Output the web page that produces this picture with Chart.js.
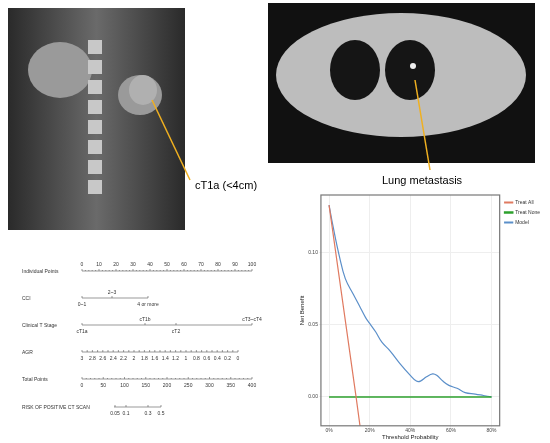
<!DOCTYPE html>
<html><head><meta charset="utf-8">
<script src="https://cdn.jsdelivr.net/npm/chart.js@4"></script>
<style>body{margin:0;background:#fff;width:550px;height:443px;position:relative;overflow:hidden;font-family:"Liberation Sans",Arial,sans-serif}
#bg{position:absolute;left:0;top:0}
#wrap{position:absolute;left:298px;top:190px;width:252px;height:251px}
</style></head><body>
<canvas id="bg" width="550" height="443"></canvas>
<div id="wrap"><canvas id="c"></canvas></div>
<script>
// DCA data
const thresholds = [0,2,5,8,12,15,18,20,23,26,30,35,40,43,45,48,51,53,56,59,63,67,72,76,80];
const modelNB = [0.133,0.118,0.098,0.082,0.071,0.063,0.055,0.051,0.045,0.038,0.032,0.023,0.015,0.011,0.011,0.014,0.016,0.015,0.011,0.008,0.006,0.003,0.002,0.001,0];
const treatAllX = [0,13.3,16];
const treatAllNB = [0.133,0,-0.028];
const treatNoneX = [0,80];
const treatNoneNB = [0,0];
const xTicks = [0,20,40,60,80];
const yTicks = [0,0.05,0.10];
// Nomogram data
const pointTicks = [0,10,20,30,40,50,60,70,80,90,100];
const agrLabels = ["3","2.8","2.6","2.4","2.2","2","1.8","1.6","1.4","1.2","1","0.8","0.6","0.4","0.2","0"];
const totalTicks = [0,50,100,150,200,250,300,350,400];
const riskLabels = ["0.05","0.1","0.3","0.5"];

const g = document.getElementById('bg').getContext('2d');
let gr = g.createLinearGradient(8,0,185,0);
gr.addColorStop(0,'#2a2a2a');gr.addColorStop(0.5,'#6a6a6a');gr.addColorStop(1,'#2a2a2a');
g.fillStyle=gr; g.fillRect(8,8,177,222);
g.fillStyle='#9a9a9a'; g.beginPath(); g.ellipse(60,70,32,28,0,0,7); g.fill();
g.beginPath(); g.ellipse(140,95,22,20,0,0,7); g.fill();
g.fillStyle='#c8c8c8'; for(let i=0;i<8;i++){g.fillRect(88,40+i*20,14,14);}
g.fillStyle='#b0b0b0'; g.beginPath(); g.ellipse(143,90,14,15,0,0,7); g.fill();
g.fillStyle='#111'; g.fillRect(268,3,267,160);
g.fillStyle='#bdbdbd'; g.beginPath(); g.ellipse(401,75,125,62,0,0,7); g.fill();
g.fillStyle='#151515'; g.beginPath(); g.ellipse(355,70,25,30,0,0,7); g.fill();
g.beginPath(); g.ellipse(410,70,25,30,0,0,7); g.fill();
g.fillStyle='#eee'; g.beginPath(); g.arc(413,66,3,0,7); g.fill();
g.strokeStyle='#f0b020'; g.lineWidth=1.5;
g.beginPath(); g.moveTo(190,180); g.lineTo(152,100); g.stroke();
g.beginPath(); g.moveTo(430,170); g.lineTo(415,80); g.stroke();
g.fillStyle='#000'; g.font='11px "Liberation Sans"';
g.fillText('cT1a (<4cm)',195,189); g.fillText('Lung metastasis',382,184);
const x0=82,x1=252;
g.font='5px "Liberation Sans"'; g.fillStyle='#333'; g.strokeStyle='#555'; g.lineWidth=0.6;
const rowY=[271,298,325,352,379,407];
['Individual Points','CCI','Clinical T Stage','AGR','Total Points','RISK OF POSITIVE CT SCAN'].forEach((t,i)=>g.fillText(t,22,rowY[i]+2));
function axis(y,xa,xb){g.beginPath();g.moveTo(xa,y);g.lineTo(xb,y);g.stroke();}
function tick(x,y,d){g.beginPath();g.moveTo(x,y);g.lineTo(x,y+d);g.stroke();}
g.textAlign='center';
axis(rowY[0],x0,x1);
for(let v=0;v<=100;v+=2){tick(x0+(x1-x0)*v/100,rowY[0],v%10?-1:-2);}
pointTicks.forEach(v=>g.fillText(String(v),x0+(x1-x0)*v/100,rowY[0]-5));
axis(rowY[1],82,148);[[82,'0~1',1],[112,'2~3',-1],[148,'4 or more',1]].forEach(([x,t,s])=>{tick(x,rowY[1],-2);g.fillText(t,x,rowY[1]+(s>0?8:-4));});
axis(rowY[2],82,252);[[82,'cT1a',1],[145,'cT1b',-1],[176,'cT2',1],[252,'cT3~cT4',-1]].forEach(([x,t,s])=>{tick(x,rowY[2],-2);g.fillText(t,x,rowY[2]+(s>0?8:-4));});
axis(rowY[3],82,238);
for(let i=0;i<=30;i++){tick(82+(238-82)*i/30,rowY[3],-2);}
agrLabels.forEach((t,i)=>g.fillText(t,82+(238-82)*i/15,rowY[3]+8));
axis(rowY[4],x0,x1);
for(let v=0;v<=400;v+=10){tick(x0+(x1-x0)*v/400,rowY[4],v%50?-1:-2);}
totalTicks.forEach(v=>g.fillText(String(v),x0+(x1-x0)*v/400,rowY[4]+8));
axis(rowY[5],114,161);
[115,126,148,161].forEach((x,i)=>{tick(x,rowY[5],-2);g.fillText(riskLabels[i],x,rowY[5]+8);});

const boxPlugin={id:'box',afterDraw(ch){const a=ch.chartArea,c=ch.ctx;c.save();c.strokeStyle='#777';c.lineWidth=1.2;c.strokeRect(a.left,a.top,a.right-a.left,a.bottom-a.top);c.restore();}};
new Chart(document.getElementById('c'),{
 type:'line',
 data:{datasets:[
  {label:'Treat All',data:treatAllX.map((x,i)=>({x,y:treatAllNB[i]})),borderColor:'#e07a60',borderWidth:1.2,pointRadius:0},
  {label:'Treat None',data:treatNoneX.map((x,i)=>({x,y:treatNoneNB[i]})),borderColor:'#2ca02c',borderWidth:1.6,pointRadius:0},
  {label:'Model',data:thresholds.map((x,i)=>({x,y:modelNB[i]})),borderColor:'#5b8fc9',borderWidth:1.2,pointRadius:0,tension:0.4}
 ]},
 plugins:[boxPlugin],
 options:{responsive:true,maintainAspectRatio:false,animation:false,
  layout:{padding:{top:5,right:0,bottom:0}},
  plugins:{legend:{position:'right',align:'start',labels:{boxWidth:8,boxHeight:1,font:{size:5},color:'#333',padding:5}},tooltip:{enabled:false}},
  scales:{
   x:{type:'linear',min:-4,max:84,border:{display:false},grid:{color:'#eee',tickLength:2},
      afterBuildTicks:a=>{a.ticks=xTicks.map(v=>({value:v}));},
      ticks:{font:{size:5},color:'#444',padding:0,callback:v=>v+'%'},
      title:{display:true,text:'Threshold Probability',font:{size:6},color:'#222',padding:0}},
   y:{min:-0.02,max:0.14,border:{display:false},grid:{color:'#eee',tickLength:2},
      afterBuildTicks:a=>{a.ticks=yTicks.map(v=>({value:v}));},
      ticks:{font:{size:5},color:'#444',padding:1,callback:v=>v.toFixed(2)},
      title:{display:true,text:'Net Benefit',font:{size:6},color:'#222',padding:1}}
  }}
});
</script></body></html>
